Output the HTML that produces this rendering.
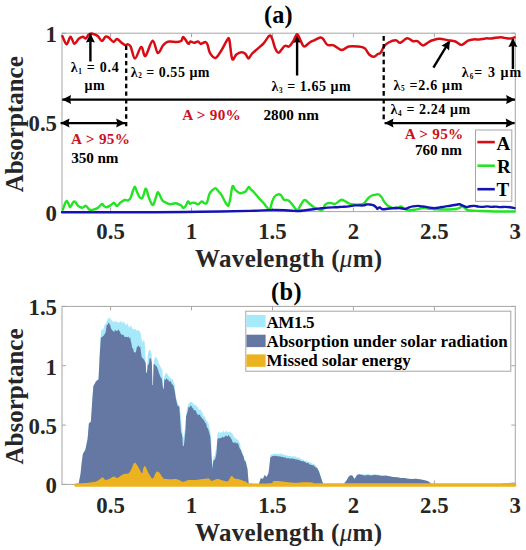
<!DOCTYPE html>
<html><head><meta charset="utf-8"><style>
html,body{margin:0;padding:0;background:#fff;}
svg{display:block;}
</style></head><body>
<svg width="526" height="550" viewBox="0 0 526 550">
<rect width="526" height="550" fill="#fff"/>
<rect x="62.0" y="33.2" width="453.3" height="178.4" fill="none" stroke="#a6a6a6" stroke-width="1"/>
<line x1="110.6" y1="33.2" x2="110.6" y2="37.2" stroke="#a6a6a6" stroke-width="1"/>
<line x1="110.6" y1="211.6" x2="110.6" y2="207.6" stroke="#a6a6a6" stroke-width="1"/>
<line x1="191.5" y1="33.2" x2="191.5" y2="37.2" stroke="#a6a6a6" stroke-width="1"/>
<line x1="191.5" y1="211.6" x2="191.5" y2="207.6" stroke="#a6a6a6" stroke-width="1"/>
<line x1="272.5" y1="33.2" x2="272.5" y2="37.2" stroke="#a6a6a6" stroke-width="1"/>
<line x1="272.5" y1="211.6" x2="272.5" y2="207.6" stroke="#a6a6a6" stroke-width="1"/>
<line x1="353.4" y1="33.2" x2="353.4" y2="37.2" stroke="#a6a6a6" stroke-width="1"/>
<line x1="353.4" y1="211.6" x2="353.4" y2="207.6" stroke="#a6a6a6" stroke-width="1"/>
<line x1="434.4" y1="33.2" x2="434.4" y2="37.2" stroke="#a6a6a6" stroke-width="1"/>
<line x1="434.4" y1="211.6" x2="434.4" y2="207.6" stroke="#a6a6a6" stroke-width="1"/>
<line x1="62.0" y1="211.6" x2="66.0" y2="211.6" stroke="#a6a6a6" stroke-width="1"/>
<line x1="515.3" y1="211.6" x2="511.29999999999995" y2="211.6" stroke="#a6a6a6" stroke-width="1"/>
<line x1="62.0" y1="122.4" x2="66.0" y2="122.4" stroke="#a6a6a6" stroke-width="1"/>
<line x1="515.3" y1="122.4" x2="511.29999999999995" y2="122.4" stroke="#a6a6a6" stroke-width="1"/>
<line x1="62.0" y1="33.2" x2="66.0" y2="33.2" stroke="#a6a6a6" stroke-width="1"/>
<line x1="515.3" y1="33.2" x2="511.29999999999995" y2="33.2" stroke="#a6a6a6" stroke-width="1"/>
<line x1="297.1" y1="75.5" x2="297.1" y2="34.2" stroke="#000" stroke-width="2.4"/>
<polygon points="297.1,34.2 301.6,43.1 297.1,42.1 292.6,43.1" fill="#000"/>
<line x1="433.4" y1="67.7" x2="449.9" y2="40.5" stroke="#000" stroke-width="2.4"/>
<polygon points="449.9,40.5 449.1,50.4 445.8,47.3 441.4,45.8" fill="#000"/>
<line x1="512.9" y1="69" x2="512.9" y2="38.2" stroke="#000" stroke-width="2.4"/>
<polygon points="512.9,38.2 517.4,47.1 512.9,46.1 508.4,47.1" fill="#000"/>
<path d="M62.90,209.60 C63.22,208.65 64.17,205.33 64.80,203.90 C65.43,202.47 66.15,201.17 66.70,201.00 C67.25,200.83 67.55,201.87 68.10,202.90 C68.65,203.93 69.37,206.97 70.00,207.20 C70.63,207.43 71.27,205.25 71.90,204.30 C72.53,203.35 73.17,201.82 73.80,201.50 C74.43,201.18 75.07,201.77 75.70,202.40 C76.33,203.03 76.88,204.50 77.60,205.30 C78.32,206.10 79.13,206.80 80.00,207.20 C80.87,207.60 81.85,207.93 82.80,207.70 C83.75,207.47 84.90,205.80 85.70,205.80 C86.50,205.80 86.97,207.07 87.60,207.70 C88.23,208.33 88.72,209.22 89.50,209.60 C90.28,209.98 91.35,210.08 92.30,210.00 C93.25,209.92 94.25,209.48 95.20,209.10 C96.15,208.72 97.13,208.33 98.00,207.70 C98.87,207.07 99.68,205.93 100.40,205.30 C101.12,204.67 101.67,203.75 102.30,203.90 C102.93,204.05 103.48,205.65 104.20,206.20 C104.92,206.75 105.52,207.37 106.60,207.20 C107.68,207.03 109.47,205.93 110.70,205.20 C111.93,204.47 112.97,202.65 114.00,202.80 C115.03,202.95 115.87,206.10 116.90,206.10 C117.93,206.10 118.93,203.82 120.20,202.80 C121.47,201.78 123.15,200.40 124.50,200.00 C125.85,199.60 127.27,200.80 128.30,200.40 C129.33,200.00 129.92,199.25 130.70,197.60 C131.48,195.95 132.30,192.32 133.00,190.50 C133.70,188.68 134.27,186.55 134.90,186.70 C135.53,186.85 136.08,189.75 136.80,191.40 C137.52,193.05 138.40,195.42 139.20,196.60 C140.00,197.78 140.88,198.73 141.60,198.50 C142.32,198.27 142.87,196.78 143.50,195.20 C144.13,193.62 144.85,189.78 145.40,189.00 C145.95,188.22 146.25,189.15 146.80,190.50 C147.35,191.85 147.90,194.88 148.70,197.10 C149.50,199.32 150.82,202.57 151.60,203.80 C152.38,205.03 152.72,205.45 153.40,204.50 C154.08,203.55 155.00,200.12 155.70,198.10 C156.40,196.08 156.97,192.97 157.60,192.40 C158.23,191.83 158.70,193.37 159.50,194.70 C160.30,196.03 161.28,199.05 162.40,200.40 C163.52,201.75 164.93,202.17 166.20,202.80 C167.47,203.43 168.42,204.12 170.00,204.20 C171.58,204.28 174.12,203.22 175.70,203.30 C177.28,203.38 178.48,204.23 179.50,204.70 C180.52,205.17 181.17,205.55 181.80,206.10 C182.43,206.65 182.67,208.00 183.30,208.00 C183.93,208.00 184.82,207.20 185.60,206.10 C186.38,205.00 187.28,201.78 188.00,201.40 C188.72,201.02 189.27,203.57 189.90,203.80 C190.53,204.03 191.00,202.97 191.80,202.80 C192.60,202.63 193.62,202.57 194.70,202.80 C195.78,203.03 197.13,204.43 198.30,204.20 C199.47,203.97 200.67,201.55 201.70,201.40 C202.73,201.25 203.63,203.07 204.50,203.30 C205.37,203.53 206.10,204.30 206.90,202.80 C207.70,201.30 208.43,196.35 209.30,194.30 C210.17,192.25 211.08,191.53 212.10,190.50 C213.12,189.47 214.45,188.10 215.40,188.10 C216.35,188.10 216.77,189.32 217.80,190.50 C218.83,191.68 220.33,193.23 221.60,195.20 C222.87,197.17 224.28,200.55 225.40,202.30 C226.52,204.05 227.50,206.25 228.30,205.70 C229.10,205.15 229.50,202.25 230.20,199.00 C230.90,195.75 231.72,187.78 232.50,186.20 C233.28,184.62 234.02,188.55 234.90,189.50 C235.78,190.45 236.85,191.27 237.80,191.90 C238.75,192.53 239.65,193.22 240.60,193.30 C241.55,193.38 242.65,192.72 243.50,192.40 C244.35,192.08 244.85,192.28 245.70,191.40 C246.55,190.52 247.80,187.50 248.60,187.10 C249.40,186.70 249.55,188.05 250.50,189.00 C251.45,189.95 252.88,191.28 254.30,192.80 C255.72,194.32 257.42,196.35 259.00,198.10 C260.58,199.85 262.37,201.65 263.80,203.30 C265.23,204.95 266.58,206.97 267.60,208.00 C268.62,209.03 269.20,210.37 269.90,209.50 C270.60,208.63 271.08,204.87 271.80,202.80 C272.52,200.73 273.17,198.52 274.20,197.10 C275.23,195.68 276.88,194.62 278.00,194.30 C279.12,193.98 279.95,194.33 280.90,195.20 C281.85,196.07 282.75,198.70 283.70,199.50 C284.65,200.30 285.75,199.80 286.60,200.00 C287.45,200.20 287.80,199.87 288.80,200.70 C289.80,201.53 291.48,203.65 292.60,205.00 C293.72,206.35 294.63,207.93 295.50,208.80 C296.37,209.67 297.02,210.68 297.80,210.20 C298.58,209.72 299.17,207.57 300.20,205.90 C301.23,204.23 302.88,200.98 304.00,200.20 C305.12,199.42 305.95,200.57 306.90,201.20 C307.85,201.83 308.60,203.05 309.70,204.00 C310.80,204.95 312.23,206.10 313.50,206.90 C314.77,207.70 316.03,208.25 317.30,208.80 C318.57,209.35 320.07,210.20 321.10,210.20 C322.13,210.20 322.87,209.67 323.50,208.80 C324.13,207.93 324.18,205.95 324.90,205.00 C325.62,204.05 326.68,203.42 327.80,203.10 C328.92,202.78 330.43,202.95 331.60,203.10 C332.77,203.25 333.63,204.25 334.80,204.00 C335.97,203.75 337.50,202.32 338.60,201.60 C339.70,200.88 340.45,199.85 341.40,199.70 C342.35,199.55 343.03,200.07 344.30,200.70 C345.57,201.33 347.42,202.87 349.00,203.50 C350.58,204.13 352.05,204.33 353.80,204.50 C355.55,204.67 357.77,204.73 359.50,204.50 C361.23,204.27 362.78,204.13 364.20,203.10 C365.62,202.07 366.73,199.57 368.00,198.30 C369.27,197.03 370.37,196.13 371.80,195.50 C373.23,194.87 375.43,194.67 376.60,194.50 C377.77,194.33 377.95,194.02 378.80,194.50 C379.65,194.98 380.75,196.13 381.70,197.40 C382.65,198.67 383.55,200.77 384.50,202.10 C385.45,203.43 386.28,204.53 387.40,205.40 C388.52,206.27 389.78,206.73 391.20,207.30 C392.62,207.87 394.32,208.95 395.90,208.80 C397.48,208.65 399.43,206.48 400.70,206.40 C401.97,206.32 402.40,207.67 403.50,208.30 C404.60,208.93 406.03,209.88 407.30,210.20 C408.57,210.52 409.83,210.28 411.10,210.20 C412.37,210.12 413.78,209.87 414.90,209.70 C416.02,209.53 416.85,209.43 417.80,209.20 C418.75,208.97 419.43,208.53 420.60,208.30 C421.77,208.07 423.23,207.70 424.80,207.80 C426.37,207.90 427.63,208.62 430.00,208.90 C432.37,209.18 435.92,209.40 439.00,209.50 C442.08,209.60 445.65,209.58 448.50,209.50 C451.35,209.42 454.20,209.32 456.10,209.00 C458.00,208.68 458.78,208.03 459.90,207.60 C461.02,207.17 461.68,206.07 462.80,206.40 C463.92,206.73 465.40,208.92 466.60,209.60 C467.80,210.28 467.85,210.27 470.00,210.50 C472.15,210.73 475.35,210.83 479.50,211.00 C483.65,211.17 489.05,211.42 494.90,211.50 C500.75,211.58 511.32,211.50 514.60,211.50" fill="none" stroke="#22e422" stroke-width="2.4" stroke-linejoin="round" stroke-linecap="round"/>
<path d="M62.00,212.20 C77.50,212.20 132.00,212.27 155.00,212.20 C178.00,212.13 184.17,212.02 200.00,211.80 C215.83,211.58 238.50,211.18 250.00,210.90 C261.50,210.62 263.17,210.22 269.00,210.10 C274.83,209.98 280.75,210.07 285.00,210.20 C289.25,210.33 292.28,210.75 294.50,210.90 C296.72,211.05 296.72,211.17 298.30,211.10 C299.88,211.03 301.47,210.82 304.00,210.50 C306.53,210.18 310.65,209.57 313.50,209.20 C316.35,208.83 318.72,208.57 321.10,208.30 C323.48,208.03 325.37,207.77 327.80,207.60 C330.23,207.43 333.43,207.42 335.70,207.30 C337.97,207.18 339.18,207.05 341.40,206.90 C343.62,206.75 346.78,206.65 349.00,206.40 C351.22,206.15 352.32,205.57 354.70,205.40 C357.08,205.23 361.40,205.55 363.30,205.40 C365.20,205.25 365.00,204.65 366.10,204.50 C367.20,204.35 368.63,204.35 369.90,204.50 C371.17,204.65 372.58,204.85 373.70,205.40 C374.82,205.95 375.97,207.20 376.60,207.80 C377.23,208.40 377.18,209.00 377.50,209.00 C377.82,209.00 378.12,208.05 378.50,207.80 C378.88,207.55 379.12,207.27 379.80,207.50 C380.48,207.73 381.33,208.98 382.60,209.20 C383.87,209.42 385.82,208.95 387.40,208.80 C388.98,208.65 390.68,208.47 392.10,208.30 C393.52,208.13 394.47,207.80 395.90,207.80 C397.33,207.80 399.12,208.13 400.70,208.30 C402.28,208.47 403.98,208.97 405.40,208.80 C406.82,208.63 407.93,207.70 409.20,207.30 C410.47,206.90 411.57,206.63 413.00,206.40 C414.43,206.17 416.37,205.90 417.80,205.90 C419.23,205.90 420.43,206.28 421.60,206.40 C422.77,206.52 423.48,206.40 424.80,206.60 C426.12,206.80 427.92,207.35 429.50,207.60 C431.08,207.85 432.72,208.10 434.30,208.10 C435.88,208.10 437.27,207.85 439.00,207.60 C440.73,207.35 442.80,206.92 444.70,206.60 C446.60,206.28 448.50,206.02 450.40,205.70 C452.30,205.38 454.60,204.93 456.10,204.70 C457.60,204.47 458.28,204.13 459.40,204.30 C460.52,204.47 461.60,205.23 462.80,205.70 C464.00,206.17 465.40,207.02 466.60,207.10 C467.80,207.18 468.70,206.40 470.00,206.20 C471.30,206.00 472.98,205.83 474.40,205.90 C475.82,205.97 477.08,206.43 478.50,206.60 C479.92,206.77 481.48,206.93 482.90,206.90 C484.32,206.87 485.57,206.40 487.00,206.40 C488.43,206.40 490.00,206.87 491.50,206.90 C493.00,206.93 494.58,206.57 496.00,206.60 C497.42,206.63 498.47,207.05 500.00,207.10 C501.53,207.15 503.53,206.87 505.20,206.90 C506.87,206.93 508.43,207.10 510.00,207.30 C511.57,207.50 513.83,207.97 514.60,208.10" fill="none" stroke="#1414b4" stroke-width="2.4" stroke-linejoin="round" stroke-linecap="round"/>
<path d="M62.40,36.20 C63.12,37.55 65.35,44.22 66.70,44.30 C68.05,44.38 69.23,36.78 70.50,36.70 C71.77,36.62 72.97,43.42 74.30,43.80 C75.63,44.18 77.08,40.18 78.50,39.00 C79.92,37.82 81.60,36.77 82.80,36.70 C84.00,36.63 84.75,38.92 85.70,38.60 C86.65,38.28 87.55,35.63 88.50,34.80 C89.45,33.97 90.45,33.68 91.40,33.60 C92.35,33.52 93.10,33.87 94.20,34.30 C95.30,34.73 96.73,35.08 98.00,36.20 C99.27,37.32 100.53,40.92 101.80,41.00 C103.07,41.08 104.43,37.27 105.60,36.70 C106.77,36.13 107.47,36.73 108.80,37.60 C110.13,38.47 112.25,41.67 113.60,41.90 C114.95,42.13 115.63,38.92 116.90,39.00 C118.17,39.08 119.78,41.37 121.20,42.40 C122.62,43.43 124.30,44.88 125.40,45.20 C126.50,45.52 126.92,44.07 127.80,44.30 C128.68,44.53 129.50,44.23 130.70,46.60 C131.90,48.97 133.25,58.45 135.00,58.50 C136.75,58.55 139.47,47.32 141.20,46.90 C142.93,46.48 143.50,57.03 145.40,56.00 C147.30,54.97 150.53,41.20 152.60,40.70 C154.67,40.20 156.07,52.20 157.80,53.00 C159.53,53.80 161.33,47.38 163.00,45.50 C164.67,43.62 165.50,42.28 167.80,41.70 C170.10,41.12 174.53,42.15 176.80,42.00 C179.07,41.85 180.28,41.62 181.40,40.80 C182.52,39.98 182.35,36.62 183.50,37.10 C184.65,37.58 187.13,42.98 188.30,43.70 C189.47,44.42 189.55,41.55 190.50,41.40 C191.45,41.25 192.75,42.80 194.00,42.80 C195.25,42.80 196.87,41.22 198.00,41.40 C199.13,41.58 199.57,43.80 200.80,43.90 C202.03,44.00 204.27,41.85 205.40,42.00 C206.53,42.15 206.85,43.00 207.60,44.80 C208.35,46.60 208.57,50.62 209.90,52.80 C211.23,54.98 213.70,58.28 215.60,57.90 C217.50,57.52 219.40,53.43 221.30,50.50 C223.20,47.57 225.67,42.10 227.00,40.30 C228.33,38.50 228.43,36.58 229.30,39.70 C230.17,42.82 231.02,56.53 232.20,59.00 C233.38,61.47 234.85,55.62 236.40,54.50 C237.95,53.38 239.98,52.38 241.50,52.30 C243.02,52.22 244.35,52.95 245.50,54.00 C246.65,55.05 247.35,58.60 248.40,58.60 C249.45,58.60 250.18,55.72 251.80,54.00 C253.42,52.28 256.10,50.12 258.10,48.30 C260.10,46.48 261.90,45.20 263.80,43.10 C265.70,41.00 268.08,36.37 269.50,35.70 C270.92,35.03 271.35,37.00 272.30,39.10 C273.25,41.20 274.12,46.05 275.20,48.30 C276.28,50.55 277.23,52.98 278.80,52.60 C280.37,52.22 282.88,47.02 284.60,46.00 C286.32,44.98 287.68,47.27 289.10,46.50 C290.52,45.73 291.77,43.43 293.10,41.40 C294.43,39.37 295.87,34.48 297.10,34.30 C298.33,34.12 299.35,38.27 300.50,40.30 C301.65,42.33 302.47,46.13 304.00,46.50 C305.53,46.87 308.00,43.53 309.70,42.50 C311.40,41.47 312.40,41.15 314.20,40.30 C316.00,39.45 318.98,37.60 320.50,37.40 C322.02,37.20 322.17,37.87 323.30,39.10 C324.43,40.33 325.58,43.75 327.30,44.80 C329.02,45.85 331.18,44.53 333.60,45.40 C336.02,46.27 339.28,49.82 341.80,50.00 C344.32,50.18 346.03,47.08 348.70,46.50 C351.37,45.92 355.13,46.20 357.80,46.50 C360.47,46.80 362.80,46.97 364.70,48.30 C366.60,49.63 367.68,53.08 369.20,54.50 C370.72,55.92 372.37,56.88 373.80,56.80 C375.23,56.72 376.67,54.67 377.80,54.00 C378.93,53.33 379.57,54.05 380.60,52.80 C381.63,51.55 382.67,48.22 384.00,46.50 C385.33,44.78 386.65,43.53 388.60,42.50 C390.55,41.47 393.75,40.25 395.70,40.30 C397.65,40.35 398.40,43.15 400.30,42.80 C402.20,42.45 405.02,38.47 407.10,38.20 C409.18,37.93 411.08,40.70 412.80,41.20 C414.52,41.70 415.68,40.50 417.40,41.20 C419.12,41.90 421.20,45.27 423.10,45.40 C425.00,45.53 427.22,42.85 428.80,42.00 C430.38,41.15 430.83,40.83 432.60,40.30 C434.37,39.77 436.87,38.82 439.40,38.80 C441.93,38.78 445.13,39.75 447.80,40.20 C450.47,40.65 453.12,40.72 455.40,41.50 C457.68,42.28 459.38,45.05 461.50,44.90 C463.62,44.75 466.10,41.52 468.10,40.60 C470.10,39.68 471.60,39.60 473.50,39.40 C475.40,39.20 477.48,39.57 479.50,39.40 C481.52,39.23 483.57,38.57 485.60,38.40 C487.63,38.23 489.17,38.60 491.70,38.40 C494.23,38.20 498.33,37.22 500.80,37.20 C503.27,37.18 504.80,38.10 506.50,38.30 C508.20,38.50 509.67,38.55 511.00,38.40 C512.33,38.25 513.92,37.57 514.50,37.40" fill="none" stroke="#d80c14" stroke-width="2.5" stroke-linejoin="round" stroke-linecap="round"/>
<line x1="90.4" y1="61.5" x2="90.4" y2="33.6" stroke="#000" stroke-width="2.4"/>
<polygon points="90.4,33.6 94.9,42.5 90.4,41.5 85.9,42.5" fill="#000"/>
<line x1="126.2" y1="45.7" x2="126.2" y2="127.6" stroke="#000" stroke-width="2.3" stroke-dasharray="4.4 3.22"/>
<line x1="383.7" y1="36.1" x2="383.7" y2="119.2" stroke="#000" stroke-width="2.3" stroke-dasharray="4.6 3.25"/>
<line x1="62.2" y1="99.6" x2="515.0" y2="99.6" stroke="#000" stroke-width="2.4"/>
<polygon points="515.0,99.6 506.1,104.1 507.1,99.6 506.1,95.1" fill="#000"/>
<polygon points="62.2,99.6 71.1,95.1 70.1,99.6 71.1,104.1" fill="#000"/>
<line x1="60.6" y1="123.1" x2="125.1" y2="123.1" stroke="#000" stroke-width="2.4"/>
<polygon points="125.1,123.1 116.2,127.6 117.2,123.1 116.2,118.6" fill="#000"/>
<polygon points="60.6,123.1 69.5,118.6 68.5,123.1 69.5,127.6" fill="#000"/>
<line x1="384.6" y1="123.1" x2="514.6" y2="123.1" stroke="#000" stroke-width="2.4"/>
<polygon points="514.6,123.1 505.7,127.6 506.7,123.1 505.7,118.6" fill="#000"/>
<polygon points="384.6,123.1 393.5,118.6 392.5,123.1 393.5,127.6" fill="#000"/>
<rect x="475.5" y="130.0" width="36.3" height="71.3" fill="#fff" stroke="#a6a6a6" stroke-width="1"/>
<line x1="477.4" y1="142.1" x2="494.8" y2="142.1" stroke="#d80c14" stroke-width="2.6"/>
<line x1="477.4" y1="165.7" x2="494.8" y2="165.7" stroke="#22e422" stroke-width="2.6"/>
<line x1="477.4" y1="189.2" x2="494.8" y2="189.2" stroke="#1414b4" stroke-width="2.6"/>
<rect x="62.0" y="306.4" width="453.3" height="178.0" fill="none" stroke="#a6a6a6" stroke-width="1"/>
<line x1="110.6" y1="306.4" x2="110.6" y2="310.4" stroke="#a6a6a6" stroke-width="1"/>
<line x1="110.6" y1="484.4" x2="110.6" y2="480.4" stroke="#a6a6a6" stroke-width="1"/>
<line x1="191.5" y1="306.4" x2="191.5" y2="310.4" stroke="#a6a6a6" stroke-width="1"/>
<line x1="191.5" y1="484.4" x2="191.5" y2="480.4" stroke="#a6a6a6" stroke-width="1"/>
<line x1="272.5" y1="306.4" x2="272.5" y2="310.4" stroke="#a6a6a6" stroke-width="1"/>
<line x1="272.5" y1="484.4" x2="272.5" y2="480.4" stroke="#a6a6a6" stroke-width="1"/>
<line x1="353.4" y1="306.4" x2="353.4" y2="310.4" stroke="#a6a6a6" stroke-width="1"/>
<line x1="353.4" y1="484.4" x2="353.4" y2="480.4" stroke="#a6a6a6" stroke-width="1"/>
<line x1="434.4" y1="306.4" x2="434.4" y2="310.4" stroke="#a6a6a6" stroke-width="1"/>
<line x1="434.4" y1="484.4" x2="434.4" y2="480.4" stroke="#a6a6a6" stroke-width="1"/>
<line x1="62.0" y1="484.4" x2="66.0" y2="484.4" stroke="#a6a6a6" stroke-width="1"/>
<line x1="515.3" y1="484.4" x2="511.29999999999995" y2="484.4" stroke="#a6a6a6" stroke-width="1"/>
<line x1="62.0" y1="425.1" x2="66.0" y2="425.1" stroke="#a6a6a6" stroke-width="1"/>
<line x1="515.3" y1="425.1" x2="511.29999999999995" y2="425.1" stroke="#a6a6a6" stroke-width="1"/>
<line x1="62.0" y1="365.7" x2="66.0" y2="365.7" stroke="#a6a6a6" stroke-width="1"/>
<line x1="515.3" y1="365.7" x2="511.29999999999995" y2="365.7" stroke="#a6a6a6" stroke-width="1"/>
<line x1="62.0" y1="306.4" x2="66.0" y2="306.4" stroke="#a6a6a6" stroke-width="1"/>
<line x1="515.3" y1="306.4" x2="511.29999999999995" y2="306.4" stroke="#a6a6a6" stroke-width="1"/>
<polygon points="78.2,484.4 79.0,482.0 79.8,477.7 80.6,473.4 81.7,462.5 82.9,453.9 83.7,452.6 84.5,451.3 85.3,450.0 86.1,446.3 86.8,442.7 87.6,439.0 88.9,423.4 89.8,422.6 90.8,421.9 91.5,412.5 92.3,400.0 93.4,386.0 94.6,384.1 95.9,381.5 97.2,380.3 98.5,379.6 99.1,368.2 100.2,340.0 101.2,331.0 102.2,328.5 103.3,330.0 104.1,325.8 104.8,325.0 105.6,324.1 106.4,322.5 107.1,319.5 107.9,319.6 108.7,317.7 109.4,318.4 110.2,317.2 110.9,321.1 111.7,319.0 112.4,321.5 113.2,322.2 114.0,320.3 114.7,322.3 115.5,321.0 116.3,321.8 117.0,321.4 117.8,322.6 118.5,322.7 119.3,322.1 120.0,322.4 120.8,320.4 121.5,321.7 122.3,323.4 123.1,320.5 123.8,322.9 124.6,322.6 125.3,324.5 126.1,325.6 126.9,323.2 127.6,323.6 128.4,326.6 129.1,326.2 129.9,327.9 130.8,324.7 131.6,327.0 132.5,328.8 133.3,329.1 134.1,329.4 134.8,328.4 135.6,329.4 136.4,330.7 137.2,329.9 138.0,331.1 138.8,329.5 139.6,332.0 140.6,333.1 141.5,339.0 142.7,342.8 143.6,339.5 144.6,341.6 145.7,360.7 146.2,372.0 146.9,372.0 147.8,354.3 149.1,350.5 150.4,349.8 151.7,354.3 152.4,384.9 153.0,384.9 153.6,363.2 154.8,357.5 155.8,357.1 156.8,358.1 157.8,360.3 158.7,363.2 159.6,365.1 160.6,367.0 161.6,368.4 162.5,370.9 163.1,388.7 163.7,388.7 164.4,376.0 165.4,373.7 166.3,372.8 167.2,373.6 168.2,376.0 169.1,376.4 169.9,377.5 170.8,378.5 171.6,379.3 172.5,378.7 173.3,381.1 174.6,384.9 175.6,395.0 176.4,399.4 177.1,401.1 177.8,404.5 178.6,404.4 179.3,405.2 180.0,409.5 180.8,416.1 181.5,424.1 182.2,428.9 182.9,437.2 183.9,437.0 184.7,429.8 185.5,425.0 186.5,412.0 187.2,407.2 188.0,405.0 189.0,403.1 190.1,402.3 191.1,401.8 191.8,402.0 192.6,402.5 193.3,404.4 194.0,404.0 194.8,404.5 195.5,405.8 196.2,405.1 196.9,406.1 197.7,407.3 198.4,409.1 199.1,409.4 199.9,409.9 200.6,409.6 201.3,411.1 202.0,412.5 202.8,412.8 203.5,416.0 204.3,416.2 205.2,417.2 206.1,419.8 206.9,421.1 207.8,422.3 208.6,423.5 209.5,427.9 210.4,432.2 211.3,440.0 212.4,465.0 213.6,456.6 214.7,456.0 215.6,450.3 216.4,450.0 217.2,436.0 218.0,432.6 218.9,432.3 219.8,432.5 220.7,432.6 221.4,432.3 222.2,432.5 222.9,431.5 223.6,430.6 224.4,432.4 225.1,432.6 225.9,431.3 226.6,430.5 227.4,431.9 228.2,432.5 229.0,432.1 229.7,431.3 230.5,432.6 231.3,432.8 232.2,433.5 233.0,434.7 233.8,437.0 234.5,437.5 235.3,437.4 236.0,439.2 236.7,439.1 237.5,439.5 238.2,440.3 239.3,442.4 240.1,443.6 240.9,450.1 241.8,450.5 242.7,453.3 243.6,456.6 244.3,458.3 245.1,460.2 245.8,462.1 246.6,463.5 247.4,468.6 248.0,475.2 248.5,481.7 249.0,484.4 259.0,484.4 259.0,483.7 259.9,480.9 260.9,478.0 261.9,478.5 262.8,479.0 263.8,477.1 264.7,475.1 265.6,476.1 266.6,477.0 267.6,475.1 268.5,473.2 269.5,463.8 270.4,455.2 271.1,454.6 271.8,454.2 272.5,454.2 273.4,453.9 274.2,453.7 274.9,453.7 275.6,453.7 276.3,453.3 277.0,454.0 277.8,454.1 278.5,453.1 279.2,454.0 280.0,454.5 280.7,453.6 281.4,453.1 282.1,454.6 282.8,454.3 283.5,455.0 284.2,454.6 284.9,454.8 285.6,455.4 286.3,455.0 287.0,455.6 287.7,455.8 288.5,455.9 289.2,456.0 289.9,455.7 290.6,456.0 291.3,456.4 292.0,456.4 292.7,456.1 293.4,456.5 294.1,456.6 294.9,456.5 295.6,456.5 296.3,457.2 297.0,457.4 297.7,457.7 298.4,457.4 299.1,457.6 299.9,458.0 300.6,458.9 301.3,459.0 302.0,459.6 302.7,460.1 303.4,459.0 304.1,460.4 304.8,460.7 305.5,461.0 306.3,460.7 307.0,461.3 307.7,461.6 308.4,461.9 309.1,461.7 309.8,462.4 310.5,462.9 311.2,462.5 312.0,463.4 312.7,463.8 313.4,463.4 314.1,464.7 314.8,464.6 315.6,465.6 316.3,466.3 317.0,467.5 317.9,469.1 318.9,471.3 319.9,474.1 320.8,477.0 321.8,479.7 322.7,482.7 323.2,484.4 343.5,484.4 344.5,483.0 346.5,480.5 348.5,477.0 350.0,475.6 351.4,475.2 352.8,476.0 354.3,479.0 355.5,477.5 357.0,475.0 359.0,474.3 361.0,474.0 364.7,474.6 368.0,474.1 371.0,474.7 374.0,474.2 378.0,474.5 382.0,475.2 386.0,475.0 389.4,476.3 393.0,476.9 397.0,477.2 401.0,477.9 404.6,478.0 408.0,478.8 412.2,479.0 416.0,478.8 419.8,479.2 423.7,480.0 427.5,480.9 430.3,482.8 431.5,484.4" fill="#a6e9fb"/>
<polygon points="78.2,484.4 79.0,482.0 79.8,477.7 80.6,473.4 81.7,462.5 82.9,453.9 83.7,452.6 84.5,451.3 85.3,450.0 86.1,446.3 86.8,442.7 87.6,439.0 88.9,423.4 89.8,422.6 90.8,421.9 91.5,412.5 92.3,400.0 93.4,386.0 94.6,384.1 95.9,381.5 97.2,380.3 98.5,379.6 99.1,368.2 99.7,355.5 100.4,345.3 101.0,337.6 102.0,337.0 102.9,336.3 103.8,335.4 104.7,334.1 105.6,332.5 106.7,324.9 107.7,324.7 108.6,322.2 109.4,324.1 110.2,324.9 111.0,328.4 111.7,329.4 112.5,330.4 113.2,331.3 114.2,332.1 115.1,329.4 115.8,330.8 116.6,331.0 117.4,330.9 118.2,329.1 119.0,330.8 119.7,331.3 120.8,334.0 121.5,334.7 122.3,334.4 123.1,334.9 123.9,335.2 124.7,337.3 125.4,337.0 126.2,336.9 126.9,336.7 127.7,337.4 128.4,336.3 129.3,338.5 130.2,337.2 130.9,341.3 131.6,344.3 132.3,348.7 133.0,348.1 133.9,352.0 134.9,352.5 135.9,352.2 136.8,347.2 137.8,346.6 138.7,345.3 139.4,347.4 140.2,346.2 140.9,351.8 141.6,356.7 142.1,357.5 143.1,358.7 144.0,359.4 144.8,361.5 145.7,363.2 146.2,373.0 146.9,373.0 147.8,364.5 148.8,364.6 149.7,358.1 151.0,358.8 151.9,363.2 152.4,384.9 153.0,384.9 153.6,364.5 154.8,363.9 155.8,365.9 156.8,366.4 157.8,369.3 158.7,372.1 159.6,374.8 160.6,377.2 161.8,378.5 163.1,388.7 163.7,388.7 164.4,378.5 165.4,380.2 166.3,377.9 167.2,379.5 168.2,379.8 169.1,381.5 169.9,381.7 170.8,381.1 171.6,383.7 172.5,384.7 173.3,384.9 174.1,388.5 174.9,392.0 175.7,397.5 176.4,400.8 177.1,404.1 177.8,405.9 178.6,406.4 179.3,406.6 180.0,416.8 181.0,431.4 182.2,435.7 182.9,445.9 183.8,446.0 184.7,438.1 185.5,430.0 186.0,416.5 186.8,414.3 187.5,412.0 188.6,406.8 189.6,407.6 190.7,405.3 191.5,406.1 192.2,408.4 193.0,407.3 193.7,410.2 194.4,410.2 195.1,410.1 195.8,410.8 196.5,412.4 197.2,414.8 197.9,413.9 198.7,415.2 199.4,414.5 200.1,415.1 200.9,416.9 201.8,417.5 202.7,419.2 203.5,419.4 204.4,420.9 205.2,423.1 206.1,423.6 206.9,427.6 207.8,427.9 209.1,432.2 210.4,437.3 211.3,453.2 212.4,469.2 213.2,462.0 213.6,459.9 214.7,459.9 215.6,457.5 216.4,453.4 217.2,442.0 217.5,439.2 218.5,438.1 219.3,438.4 220.2,438.1 221.1,438.2 222.0,437.2 222.9,436.5 223.7,437.8 224.6,436.7 225.4,435.9 226.2,435.4 226.9,436.3 227.7,436.4 228.4,434.6 229.2,437.0 230.0,435.9 230.8,438.6 231.6,439.2 232.3,440.9 233.1,443.6 233.8,441.9 234.6,442.8 235.4,442.4 236.1,442.5 236.9,444.0 237.6,442.4 238.7,445.2 239.4,447.7 240.2,448.9 240.9,450.1 241.8,452.7 242.7,454.8 243.6,456.6 244.3,460.4 245.1,460.8 245.8,462.1 246.6,465.7 247.4,468.6 248.0,475.2 248.5,481.7 249.0,484.4 259.0,484.4 259.0,483.7 259.9,480.9 260.9,478.0 261.9,478.5 262.8,479.0 263.8,477.1 264.7,475.1 265.6,476.1 266.6,477.0 267.6,475.1 268.5,473.2 269.5,465.6 270.4,457.0 271.1,456.9 271.8,456.4 272.5,456.0 273.4,455.9 274.2,455.5 274.9,456.2 275.6,455.7 276.3,456.0 277.0,455.8 277.8,456.6 278.5,456.4 279.2,456.2 280.0,456.3 280.7,456.8 281.4,456.7 282.1,457.3 282.8,456.8 283.5,457.2 284.2,457.7 284.9,457.3 285.6,457.2 286.3,458.3 287.0,458.7 287.7,457.8 288.5,458.2 289.2,457.9 289.9,459.3 290.6,458.6 291.3,458.2 292.0,458.7 292.7,458.6 293.4,458.9 294.1,458.8 294.9,458.9 295.6,459.4 296.3,459.4 297.0,459.2 297.7,460.0 298.4,459.7 299.1,459.9 299.9,460.7 300.6,460.5 301.3,461.1 302.0,461.4 302.7,461.0 303.4,461.3 304.1,461.5 304.8,462.0 305.5,462.0 306.3,463.3 307.0,463.0 307.7,462.8 308.4,462.8 309.1,464.4 309.8,464.0 310.5,464.9 311.2,464.7 312.0,465.1 312.7,465.4 313.4,465.3 314.1,465.6 314.8,467.0 315.6,467.3 316.3,467.9 317.0,467.5 317.9,469.4 318.9,471.3 319.9,474.3 320.8,477.0 321.8,479.9 322.7,482.7 323.2,484.4 343.5,484.4 344.5,483.0 346.5,480.5 348.5,477.0 350.0,475.6 351.4,475.2 352.8,476.0 354.3,479.0 355.5,477.5 357.0,475.0 359.0,474.3 361.0,474.8 364.7,475.4 368.0,474.9 371.0,475.5 374.0,475.0 378.0,475.3 382.0,476.0 386.0,475.8 389.4,476.3 393.0,476.9 397.0,477.2 401.0,477.9 404.6,478.0 408.0,478.8 412.2,479.0 416.0,478.8 419.8,479.2 423.7,480.0 427.5,480.9 430.3,482.8 431.5,484.4" fill="#6478a3"/>
<polygon points="500,484 504,483.2 509,482.9 513,482.6 515.3,482.7 515.3,484" fill="#6478a3" opacity="0.7"/>
<path d="M74.30,484.60 C74.50,484.40 74.40,483.62 75.50,483.40 C76.60,483.18 78.78,483.42 80.90,483.30 C83.02,483.18 85.77,482.95 88.20,482.70 C90.63,482.45 93.53,482.40 95.50,481.80 C97.47,481.20 98.80,479.85 100.00,479.10 C101.20,478.35 101.78,477.15 102.70,477.30 C103.62,477.45 104.28,479.78 105.50,480.00 C106.72,480.22 108.58,479.17 110.00,478.60 C111.42,478.03 112.78,476.72 114.00,476.60 C115.22,476.48 115.75,478.28 117.30,477.90 C118.85,477.52 121.42,475.07 123.30,474.30 C125.18,473.53 127.27,474.13 128.60,473.30 C129.93,472.47 130.52,470.75 131.30,469.30 C132.08,467.85 132.75,465.68 133.30,464.60 C133.85,463.52 134.15,463.00 134.60,462.80 C135.05,462.60 135.43,462.77 136.00,463.40 C136.57,464.03 137.02,464.95 138.00,466.60 C138.98,468.25 141.02,472.97 141.90,473.30 C142.78,473.63 142.85,469.78 143.30,468.60 C143.75,467.42 144.17,466.42 144.60,466.20 C145.03,465.98 145.23,466.12 145.90,467.30 C146.57,468.48 147.48,471.42 148.60,473.30 C149.72,475.18 151.50,478.50 152.60,478.60 C153.70,478.70 154.43,475.08 155.20,473.90 C155.97,472.72 156.53,471.72 157.20,471.50 C157.87,471.28 158.20,471.47 159.20,472.60 C160.20,473.73 162.30,477.27 163.20,478.30 C164.10,479.33 163.48,478.63 164.60,478.80 C165.72,478.97 168.08,479.25 169.90,479.30 C171.72,479.35 173.67,478.83 175.50,479.10 C177.33,479.37 179.55,480.45 180.90,480.90 C182.25,481.35 182.38,481.95 183.60,481.80 C184.82,481.65 186.22,480.30 188.20,480.00 C190.18,479.70 193.08,480.15 195.50,480.00 C197.92,479.85 200.43,479.32 202.70,479.10 C204.97,478.88 207.58,478.40 209.10,478.70 C210.62,479.00 210.43,480.83 211.80,480.90 C213.17,480.97 215.78,479.25 217.30,479.10 C218.82,478.95 219.63,479.68 220.90,480.00 C222.17,480.32 223.68,480.83 224.90,481.00 C226.12,481.17 227.10,481.82 228.20,481.00 C229.30,480.18 230.42,476.50 231.50,476.10 C232.58,475.70 233.35,478.05 234.70,478.60 C236.05,479.15 237.68,478.87 239.60,479.40 C241.52,479.93 244.55,481.15 246.20,481.80 C247.85,482.45 245.42,483.05 249.50,483.30 C253.58,483.55 266.88,483.55 270.70,483.30 C274.52,483.05 271.63,482.18 272.40,481.80 C273.17,481.42 273.93,481.10 275.30,481.00 C276.67,480.90 278.82,481.05 280.60,481.20 C282.38,481.35 283.33,481.63 286.00,481.90 C288.67,482.17 293.72,482.73 296.60,482.80 C299.48,482.87 300.63,482.35 303.30,482.30 C305.97,482.25 309.28,482.33 312.60,482.50 C315.92,482.67 305.30,483.18 323.20,483.30 C341.10,483.42 387.95,483.22 420.00,483.20 C452.05,483.18 499.58,483.20 515.50,483.20 L516.3,484.2 L516.3,486.0 L515.5,486.8 L75.5,486.8 L74.3,486.0 Z" fill="#edb21f"/>
<rect x="245.8" y="311.2" width="265" height="60" fill="#fff" stroke="#a6a6a6" stroke-width="1"/>
<rect x="246.4" y="314.9" width="19.2" height="12.4" fill="#a6e9fb"/>
<rect x="246.4" y="334.7" width="19.2" height="12.4" fill="#6478a3"/>
<rect x="246.4" y="354.4" width="19.2" height="12.4" fill="#edb21f"/>
<text transform="translate(110.57,239.30) scale(1,1.02)" font-size="22.8" font-weight="bold" fill="#262626" text-anchor="middle" font-family='"Liberation Serif", serif'>0.5</text>
<text transform="translate(191.51,239.30) scale(1,1.02)" font-size="22.8" font-weight="bold" fill="#262626" text-anchor="middle" font-family='"Liberation Serif", serif'>1</text>
<text transform="translate(272.46,239.30) scale(1,1.02)" font-size="22.8" font-weight="bold" fill="#262626" text-anchor="middle" font-family='"Liberation Serif", serif'>1.5</text>
<text transform="translate(353.41,239.30) scale(1,1.02)" font-size="22.8" font-weight="bold" fill="#262626" text-anchor="middle" font-family='"Liberation Serif", serif'>2</text>
<text transform="translate(434.35,239.30) scale(1,1.02)" font-size="22.8" font-weight="bold" fill="#262626" text-anchor="middle" font-family='"Liberation Serif", serif'>2.5</text>
<text transform="translate(515.30,239.30) scale(1,1.02)" font-size="22.8" font-weight="bold" fill="#262626" text-anchor="middle" font-family='"Liberation Serif", serif'>3</text>
<text transform="translate(110.57,512.80) scale(1,1.02)" font-size="22.8" font-weight="bold" fill="#262626" text-anchor="middle" font-family='"Liberation Serif", serif'>0.5</text>
<text transform="translate(191.51,512.80) scale(1,1.02)" font-size="22.8" font-weight="bold" fill="#262626" text-anchor="middle" font-family='"Liberation Serif", serif'>1</text>
<text transform="translate(272.46,512.80) scale(1,1.02)" font-size="22.8" font-weight="bold" fill="#262626" text-anchor="middle" font-family='"Liberation Serif", serif'>1.5</text>
<text transform="translate(353.41,512.80) scale(1,1.02)" font-size="22.8" font-weight="bold" fill="#262626" text-anchor="middle" font-family='"Liberation Serif", serif'>2</text>
<text transform="translate(434.35,512.80) scale(1,1.02)" font-size="22.8" font-weight="bold" fill="#262626" text-anchor="middle" font-family='"Liberation Serif", serif'>2.5</text>
<text transform="translate(515.30,512.80) scale(1,1.02)" font-size="22.8" font-weight="bold" fill="#262626" text-anchor="middle" font-family='"Liberation Serif", serif'>3</text>
<text transform="translate(57.00,220.50) scale(1,1.02)" font-size="22.8" font-weight="bold" fill="#262626" text-anchor="end" font-family='"Liberation Serif", serif'>0</text>
<text transform="translate(57.00,131.30) scale(1,1.02)" font-size="22.8" font-weight="bold" fill="#262626" text-anchor="end" font-family='"Liberation Serif", serif'>0.5</text>
<text transform="translate(57.00,42.10) scale(1,1.02)" font-size="22.8" font-weight="bold" fill="#262626" text-anchor="end" font-family='"Liberation Serif", serif'>1</text>
<text transform="translate(57.00,493.30) scale(1,1.02)" font-size="22.8" font-weight="bold" fill="#262626" text-anchor="end" font-family='"Liberation Serif", serif'>0</text>
<text transform="translate(57.00,433.97) scale(1,1.02)" font-size="22.8" font-weight="bold" fill="#262626" text-anchor="end" font-family='"Liberation Serif", serif'>0.5</text>
<text transform="translate(57.00,374.63) scale(1,1.02)" font-size="22.8" font-weight="bold" fill="#262626" text-anchor="end" font-family='"Liberation Serif", serif'>1</text>
<text transform="translate(57.00,315.30) scale(1,1.02)" font-size="22.8" font-weight="bold" fill="#262626" text-anchor="end" font-family='"Liberation Serif", serif'>1.5</text>
<text x="0" y="0" transform="translate(22.5,124.3) rotate(-90)" font-size="25" font-weight="bold" fill="#262626" text-anchor="middle" font-family='"Liberation Serif", serif'>Absorptance</text>
<text x="0" y="0" transform="translate(22.5,396.5) rotate(-90)" font-size="25" font-weight="bold" fill="#262626" text-anchor="middle" font-family='"Liberation Serif", serif'>Absorptance</text>
<text x="70.70" y="72.00" font-size="14" font-weight="bold" fill="#000" font-family='"Liberation Serif", serif' textLength="48.01" lengthAdjust="spacing">λ<tspan font-size="7.2" dy="1.7">1</tspan><tspan dy="-1.7"> = 0.4</tspan></text>
<text x="84.60" y="90.00" font-size="14" font-weight="bold" fill="#000" font-family='"Liberation Serif", serif' textLength="20.10" lengthAdjust="spacing">μm</text>
<text x="130.80" y="76.50" font-size="14" font-weight="bold" fill="#000" font-family='"Liberation Serif", serif' textLength="78.73" lengthAdjust="spacing">λ<tspan font-size="7.2" dy="1.7">2</tspan><tspan dy="-1.7"> = 0.55 μm</tspan></text>
<text x="271.50" y="90.80" font-size="14" font-weight="bold" fill="#000" font-family='"Liberation Serif", serif' textLength="79.26" lengthAdjust="spacing">λ<tspan font-size="7.2" dy="1.7">3</tspan><tspan dy="-1.7"> = 1.65 μm</tspan></text>
<text x="393.40" y="89.50" font-size="14" font-weight="bold" fill="#000" font-family='"Liberation Serif", serif' textLength="68.97" lengthAdjust="spacing">λ<tspan font-size="7.2" dy="1.7">5</tspan><tspan dy="-1.7"> =2.6 μm</tspan></text>
<text x="461.70" y="77.00" font-size="14" font-weight="bold" fill="#000" font-family='"Liberation Serif", serif' textLength="59.47" lengthAdjust="spacing">λ<tspan font-size="7.2" dy="1.7">6</tspan><tspan dy="-1.7">= 3 μm</tspan></text>
<text x="390.60" y="114.40" font-size="14" font-weight="bold" fill="#000" font-family='"Liberation Serif", serif' textLength="79.67" lengthAdjust="spacing">λ<tspan font-size="7.2" dy="1.7">4</tspan><tspan dy="-1.7"> = 2.24 μm</tspan></text>
<text x="182.30" y="119.80" font-size="15.2" font-weight="bold" fill="#cc1020" font-family='"Liberation Serif", serif' textLength="58.46" lengthAdjust="spacing">A &gt; 90%</text>
<text x="263.40" y="120.10" font-size="15.2" font-weight="bold" fill="#000" font-family='"Liberation Serif", serif' textLength="55.53" lengthAdjust="spacing">2800 nm</text>
<text x="71.00" y="143.60" font-size="15.2" font-weight="bold" fill="#cc1020" font-family='"Liberation Serif", serif' textLength="59.02" lengthAdjust="spacing">A &gt; 95%</text>
<text x="71.30" y="162.90" font-size="15.2" font-weight="bold" fill="#000" font-family='"Liberation Serif", serif' textLength="47.20" lengthAdjust="spacing">350 nm</text>
<text x="404.80" y="138.80" font-size="15.2" font-weight="bold" fill="#cc1020" font-family='"Liberation Serif", serif' textLength="58.46" lengthAdjust="spacing">A &gt; 95%</text>
<text x="415.10" y="155.10" font-size="15.2" font-weight="bold" fill="#000" font-family='"Liberation Serif", serif' textLength="46.69" lengthAdjust="spacing">760 nm</text>
<text x="496.40" y="149.70" font-size="19" font-weight="bold" fill="#000" font-family='"Liberation Serif", serif'>A</text>
<text x="497.00" y="172.60" font-size="19" font-weight="bold" fill="#000" font-family='"Liberation Serif", serif'>R</text>
<text x="496.40" y="196.20" font-size="19" font-weight="bold" fill="#000" font-family='"Liberation Serif", serif'>T</text>
<text x="266.40" y="327.70" font-size="17" font-weight="bold" fill="#000" font-family='"Liberation Serif", serif' textLength="48.14" lengthAdjust="spacing">AM1.5</text>
<text x="266.60" y="347.20" font-size="17" font-weight="bold" fill="#000" font-family='"Liberation Serif", serif' textLength="241.03" lengthAdjust="spacing">Absorption under solar radiation</text>
<text x="266.60" y="366.40" font-size="17" font-weight="bold" fill="#000" font-family='"Liberation Serif", serif' textLength="144.27" lengthAdjust="spacing">Missed solar energy</text>
<text x="195.10" y="267.40" font-size="25" font-weight="bold" fill="#262626" font-family='"Liberation Serif", serif' textLength="187.10" lengthAdjust="spacing">Wavelength (<tspan font-style="italic" font-weight="normal">μ</tspan>m)</text>
<text x="195.10" y="540.90" font-size="25" font-weight="bold" fill="#262626" font-family='"Liberation Serif", serif' textLength="186.89" lengthAdjust="spacing">Wavelength (<tspan font-style="italic" font-weight="normal">μ</tspan>m)</text>
<text x="264.00" y="22.60" font-size="24.3" font-weight="bold" fill="#000" font-family='"Liberation Serif", serif' textLength="28.59" lengthAdjust="spacing">(a)</text>
<text x="270.90" y="299.80" font-size="24.3" font-weight="bold" fill="#000" font-family='"Liberation Serif", serif' textLength="30.68" lengthAdjust="spacing">(b)</text>
</svg>
</body></html>
